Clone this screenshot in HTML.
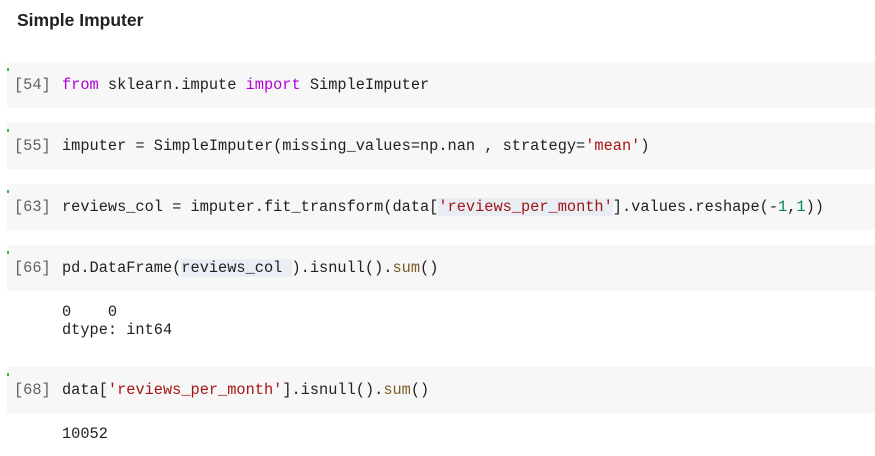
<!DOCTYPE html>
<html><head><style>
body{margin:0;width:875px;height:456px;background:#fff;position:relative;overflow:hidden;font-family:"Liberation Mono",monospace;}
.t{position:absolute;left:17px;top:10px;font:bold 17.5px "Liberation Sans",sans-serif;color:#212121;}
.c{position:absolute;left:7px;width:868px;height:46px;background:#f7f7f7;}
.tick{position:absolute;left:0;top:6px;width:2px;height:3px;background:#4caf50;}
.l{position:absolute;font-size:15.3px;white-space:pre;color:#212121;line-height:18px;}
.n{color:#616161;}
.k{color:#af00db;}
.s{color:#a31515;}
.f{color:#795e26;}
.num{color:#098658;}
.hl{background:#e8eef4;}
</style></head><body>
<div class="t">Simple Imputer</div>

<div class="c" style="top:62px"><div class="tick"></div></div>
<div class="l n" style="left:14px;top:76px">[54]</div>
<div class="l" style="left:62px;top:76px"><span class="k">from</span> sklearn.impute <span class="k">import</span> SimpleImputer</div>

<div class="c" style="top:123px"><div class="tick"></div></div>
<div class="l n" style="left:14px;top:137px">[55]</div>
<div class="l" style="left:62px;top:137px">imputer = SimpleImputer(missing_values=np.nan , strategy=<span class="s">'mean'</span>)</div>

<div class="c" style="top:184px"><div class="tick"></div></div>
<div class="l n" style="left:14px;top:198px">[63]</div>
<div class="l" style="left:62px;top:198px">reviews_col = imputer.fit_transform(data[<span class="s hl">'reviews_per_month'</span>].values.reshape(-<span class="num">1</span>,<span class="num">1</span>))</div>

<div class="c" style="top:245px"><div class="tick"></div></div>
<div class="l n" style="left:14px;top:259px">[66]</div>
<div class="l" style="left:62px;top:259px">pd.DataFrame(<span class="hl">reviews_col </span>).isnull().<span class="f">sum</span>()</div>
<div class="l" style="left:62px;top:303px">0    0
dtype: int64</div>

<div class="c" style="top:367px"><div class="tick"></div></div>
<div class="l n" style="left:14px;top:381px">[68]</div>
<div class="l" style="left:62px;top:381px">data[<span class="s">'reviews_per_month'</span>].isnull().<span class="f">sum</span>()</div>
<div class="l" style="left:62px;top:425px">10052</div>
</body></html>
